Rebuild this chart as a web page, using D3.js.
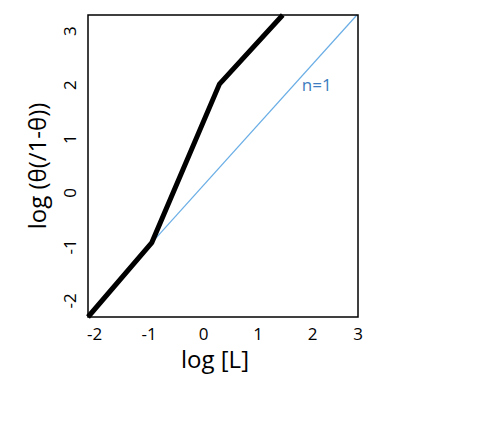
<!DOCTYPE html><html><head><meta charset="utf-8"><script src="https://cdn.jsdelivr.net/npm/d3@7"></script>
<style>body{margin:0;background:#fff}text{font-family:"Open Sans",sans-serif}</style></head><body><svg id="c" width="478" height="426"></svg>
<script>
const xTicks=[-2,-1,0,1,2,3];
const yTicks=[-2,-1,0,1,2,3];
const hillX=[-2.12,-0.95,0.29,1.45];
const hillY=[-2.3,-0.92,2.02,3.3];
const refX=[-0.95,2.81];
const refY=[-0.92,3.3];
const svg=d3.select("#c");
const L=88,R=358,T=15,B=317;
const x=d3.scaleLinear().domain([-2.12,2.83]).range([L,R]);
const y=d3.scaleLinear().domain([-2.3,3.3]).range([B,T]);
const line=d3.line().x(d=>x(d[0])).y(d=>y(d[1]));
svg.append("path").datum(refX.map((v,i)=>[v,refY[i]])).attr("d",line).attr("fill","none").attr("stroke","#6aaee6").attr("stroke-width",1.2);
svg.append("path").datum(hillX.map((v,i)=>[v,hillY[i]])).attr("d",line).attr("fill","none").attr("stroke","#000").attr("stroke-width",5).attr("stroke-linejoin","miter");
svg.append("rect").attr("x",L).attr("y",T).attr("width",R-L).attr("height",B-T).attr("fill","none").attr("stroke","#000").attr("stroke-width",1.5);
xTicks.forEach(t=>{svg.append("text").attr("x",Math.min(x(t),R)).attr("y",340).attr("text-anchor","middle").style("font-size","17px").text(t)});
yTicks.forEach(t=>{svg.append("text").attr("transform",`translate(76,${y(t)}) rotate(-90)`).attr("text-anchor","middle").style("font-size","17px").text(t)});
svg.append("text").attr("x",215).attr("y",368).attr("text-anchor","middle").style("font-size","24px").text("log [L]");
svg.append("text").attr("transform","translate(46,166) rotate(-90)").attr("text-anchor","middle").style("font-size","24px").text("log (θ(/1-θ))");
svg.append("text").attr("x",x(1.8)).attr("y",y(1.9)).style("font-size","17px").attr("fill","#3d7cc0").text("n=1");
</script></body></html>
